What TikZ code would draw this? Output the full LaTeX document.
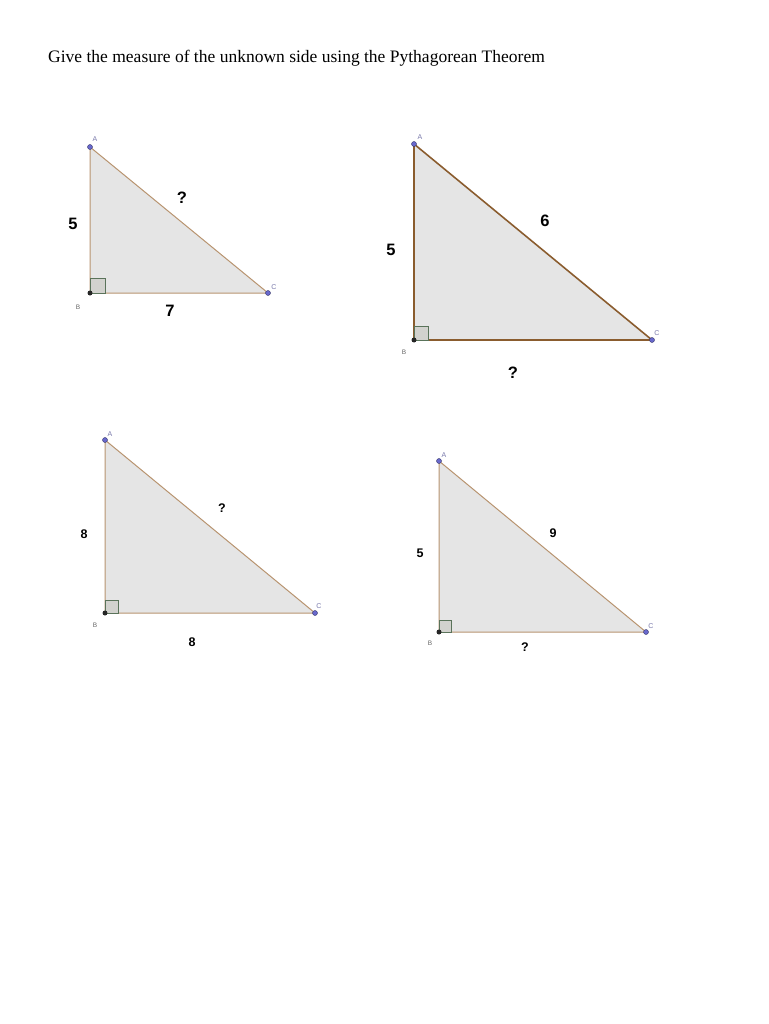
\documentclass[tikz,border=0pt]{standalone}
\usepackage{fontspec}
\setmainfont{Liberation Serif}
\setsansfont{Liberation Sans}
\definecolor{sidebrown}{RGB}{153,102,51}
\definecolor{trifill}{RGB}{229,229,229}
\definecolor{anglefill}{RGB}{210,210,206}
\definecolor{angledraw}{RGB}{90,115,90}
\definecolor{ptblue}{RGB}{105,105,205}
\definecolor{ptlabel}{RGB}{120,120,170}

\begin{document}
\begin{tikzpicture}[x=1pt,y=-1pt,
        side/.style={draw=sidebrown!70,line width=1pt,fill=trifill,line join=round},
        thickside/.style={draw=sidebrown!90!black,line width=1.6pt,fill=trifill,line join=round},
        rightangle/.style={draw=angledraw,line width=0.5pt,fill=anglefill},
        bluept/.style={circle,inner sep=0pt,minimum size=5pt,fill=ptblue,draw=ptblue!50!black,line width=0.4pt},
        blackpt/.style={circle,inner sep=0pt,minimum size=5pt,fill=black!85},
        vlabel/.style={font=\sffamily\fontsize{7}{8}\selectfont,text=ptlabel,inner sep=0pt},
        blabel/.style={font=\sffamily\fontsize{6.5}{7}\selectfont,text=black!60,inner sep=0pt},
        biglen/.style={font=\sffamily\bfseries\fontsize{16.5}{18}\selectfont,inner sep=0pt},
        smalllen/.style={font=\sffamily\bfseries\fontsize{12.5}{14}\selectfont,inner sep=0pt}]
            \useasboundingbox (0,0) rectangle (768,1024);
            \node[anchor=base west,inner sep=0pt,font=\fontsize{17.5}{20}\selectfont] (title) at (48,63)
                {Give the measure of the unknown side using the Pythagorean Theorem};

            % first triangle
            \coordinate (t1a) at (90,147);
            \coordinate (t1b) at (90,293);
            \coordinate (t1c) at (268,293);
            \draw[side] (t1a) -- (t1b) -- (t1c) -- cycle;
            \draw[rightangle] (t1b) rectangle ++(15,-15);
            \node[bluept] at (t1a) {};
            \node[blackpt] at (t1b) {};
            \node[bluept] at (t1c) {};
            \node[vlabel] (t1la) at (95,139) {A};
            \node[blabel] (t1lb) at (78,307) {B};
            \node[vlabel] (t1lc) at (274,287) {C};
            \node[biglen] (t1ab) at (73,224) {5};
            \node[biglen] (t1ac) at (182,198) {?};
            \node[biglen] (t1bc) at (170,311) {7};

            % second triangle
            \coordinate (t2a) at (414,144);
            \coordinate (t2b) at (414,340);
            \coordinate (t2c) at (652,340);
            \draw[thickside] (t2a) -- (t2b) -- (t2c) -- cycle;
            \draw[rightangle] (t2b) rectangle ++(14,-14);
            \node[bluept] at (t2a) {};
            \node[blackpt] at (t2b) {};
            \node[bluept] at (t2c) {};
            \node[vlabel] (t2la) at (420,137) {A};
            \node[blabel] (t2lb) at (404,352) {B};
            \node[vlabel] (t2lc) at (657,333) {C};
            \node[biglen] (t2ab) at (391,250) {5};
            \node[biglen] (t2ac) at (545,221) {6};
            \node[biglen] (t2bc) at (513,373) {?};

            % third triangle
            \coordinate (t3a) at (105,440);
            \coordinate (t3b) at (105,613);
            \coordinate (t3c) at (315,613);
            \draw[side] (t3a) -- (t3b) -- (t3c) -- cycle;
            \draw[rightangle] (t3b) rectangle ++(13,-13);
            \node[bluept] at (t3a) {};
            \node[blackpt] at (t3b) {};
            \node[bluept] at (t3c) {};
            \node[vlabel] (t3la) at (110,434) {A};
            \node[blabel] (t3lb) at (95,625) {B};
            \node[vlabel] (t3lc) at (319,606) {C};
            \node[smalllen] (t3ab) at (84,534) {8};
            \node[smalllen] (t3ac) at (222,508) {?};
            \node[smalllen] (t3bc) at (192,642) {8};

            % fourth triangle
            \coordinate (t4a) at (439,461);
            \coordinate (t4b) at (439,632);
            \coordinate (t4c) at (646,632);
            \draw[side] (t4a) -- (t4b) -- (t4c) -- cycle;
            \draw[rightangle] (t4b) rectangle ++(12,-12);
            \node[bluept] at (t4a) {};
            \node[blackpt] at (t4b) {};
            \node[bluept] at (t4c) {};
            \node[vlabel] (t4la) at (444,455) {A};
            \node[blabel] (t4lb) at (430,643) {B};
            \node[vlabel] (t4lc) at (651,626) {C};
            \node[smalllen] (t4ab) at (420,553) {5};
            \node[smalllen] (t4ac) at (553,533) {9};
            \node[smalllen] (t4bc) at (525,647) {?};
        \end{tikzpicture}
\end{document}
